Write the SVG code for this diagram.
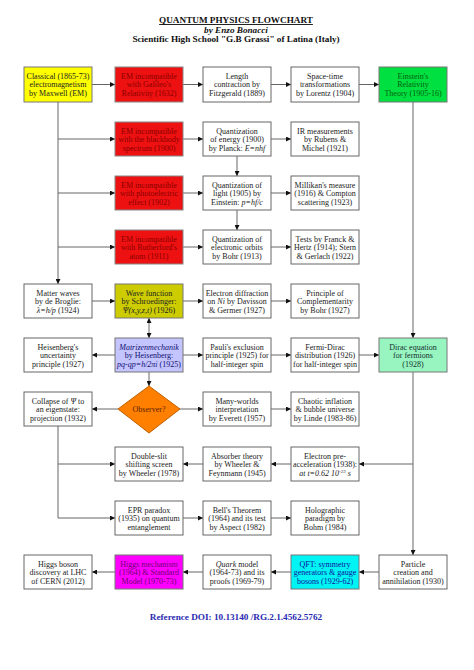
<svg xmlns="http://www.w3.org/2000/svg" width="474" height="670" viewBox="0 0 474 670">
<defs>
<marker id="ah" viewBox="0 0 6 6" refX="6" refY="3" markerWidth="5" markerHeight="5" markerUnits="userSpaceOnUse" orient="auto-start-reverse">
<path d="M0,0 L6,3 L0,6 Z" fill="#111"/>
</marker>
<style>
text{font-family:"Liberation Serif","Times New Roman",serif;font-size:8px;text-anchor:middle;fill:#222}
.b{fill:#fff;stroke:#666;stroke-width:1}
.red{fill:#ee1111;stroke:#888}
.rt{fill:#8a0000}
.c path{fill:none;stroke:#666;stroke-width:1}
.ttl{font-weight:bold;font-size:9.2px;fill:#111}
</style>
</defs>
<rect width="474" height="670" fill="#fff"/>
<g id="title">
<text class="ttl" x="236" y="23" text-decoration="underline">QUANTUM PHYSICS FLOWCHART</text>
<text class="ttl" x="236" y="32.5" font-style="italic">by Enzo Bonacci</text>
<text class="ttl" x="236" y="41.5">Scientific High School "G.B Grassi" of Latina (Italy)</text>
</g>
<g class="c" id="connectors">
<path d="M92,84.5H115" marker-end="url(#ah)"/>
<path d="M183,84.5H203" marker-end="url(#ah)"/>
<path d="M271,84.5H291" marker-end="url(#ah)"/>
<path d="M359,84.5H379" marker-end="url(#ah)"/>
<path d="M58,102V284" marker-end="url(#ah)"/>
<path d="M58,139H115" marker-end="url(#ah)"/>
<path d="M58,193H115" marker-end="url(#ah)"/>
<path d="M58,247H115" marker-end="url(#ah)"/>
<path d="M183,139H203" marker-end="url(#ah)"/>
<path d="M183,193H203" marker-end="url(#ah)"/>
<path d="M183,247H203" marker-end="url(#ah)"/>
<path d="M271,139H291" marker-end="url(#ah)"/>
<path d="M271,193H291" marker-end="url(#ah)"/>
<path d="M271,247H291" marker-end="url(#ah)"/>
<path d="M237,156V176" marker-end="url(#ah)"/>
<path d="M237,210V230" marker-end="url(#ah)"/>
<path d="M413,102V338" marker-end="url(#ah)"/>
<path d="M413,372V555" marker-end="url(#ah)"/>
<path d="M413,464H359" marker-end="url(#ah)"/>
<path d="M92,301H115" marker-end="url(#ah)"/>
<path d="M183,301H203" marker-end="url(#ah)"/>
<path d="M271,301H291" marker-end="url(#ah)"/>
<path d="M149,318V338" marker-start="url(#ah)" marker-end="url(#ah)"/>
<path d="M115,355H92" marker-end="url(#ah)"/>
<path d="M183,355H203" marker-end="url(#ah)"/>
<path d="M271,355H291" marker-end="url(#ah)"/>
<path d="M359,355H379" marker-end="url(#ah)"/>
<path d="M149,372V386" marker-end="url(#ah)"/>
<path d="M118,409H92" marker-end="url(#ah)"/>
<path d="M180,409H203" marker-end="url(#ah)"/>
<path d="M271,409H291" marker-end="url(#ah)"/>
<path d="M58,426V518H115" marker-end="url(#ah)"/>
<path d="M58,464H115" marker-end="url(#ah)"/>
<path d="M291,464H271" marker-end="url(#ah)"/>
<path d="M203,464H183" marker-end="url(#ah)"/>
<path d="M183,518H203" marker-end="url(#ah)"/>
<path d="M271,518H291" marker-end="url(#ah)"/>
<path d="M379,572H359" marker-end="url(#ah)"/>
<path d="M291,572H271" marker-end="url(#ah)"/>
<path d="M203,572H183" marker-end="url(#ah)"/>
<path d="M115,572H92" marker-end="url(#ah)"/>
</g>

<g id="classical"><rect x="24" y="67" width="68" height="35" fill="#ffff00" stroke="#777"/><text x="58" y="78.7">Classical (1865-73)</text><text x="58" y="87.3">electromagnetism</text><text x="58" y="96">by Maxwell (EM)</text></g>
<g id="em-galileo"><rect x="115" y="67" width="68" height="35" class="red"/><text class="rt" x="149" y="78.7">EM incompatible</text><text class="rt" x="149" y="87.3">with Galileo's</text><text class="rt" x="149" y="96">Relativity (1632)</text></g>
<g id="length"><rect x="203" y="67" width="68" height="35" class="b"/><text x="237" y="78.7">Length</text><text x="237" y="87.3">contraction by</text><text x="237" y="96">Fitzgerald (1889)</text></g>
<g id="lorentz"><rect x="291" y="67" width="68" height="35" class="b"/><text x="325" y="78.7">Space-time</text><text x="325" y="87.3">transformations</text><text x="325" y="96">by Lorentz (1904)</text></g>
<g id="einstein"><rect x="379" y="67" width="68" height="35" fill="#00e040" stroke="#777"/><text x="413" y="78.7" style="fill:#006010">Einstein's</text><text x="413" y="87.3" style="fill:#006010">Relativity</text><text x="413" y="96" style="fill:#006010">Theory (1905-16)</text></g>

<g id="em-blackbody"><rect x="115" y="122" width="68" height="34" class="red"/><text class="rt" x="149" y="133.5">EM incompatible</text><text class="rt" x="149" y="142">with the blackbody</text><text class="rt" x="149" y="150.5">spectrum (1900)</text></g>
<g id="planck"><rect x="203" y="122" width="68" height="34" class="b"/><text x="237" y="133.5">Quantization</text><text x="237" y="142">of energy (1900)</text><text x="237" y="150.5">by Planck: <tspan font-style="italic">E=nhf</tspan></text></g>
<g id="rubens"><rect x="291" y="122" width="68" height="34" class="b"/><text x="325" y="133.5">IR measurements</text><text x="325" y="142">by Rubens &amp;</text><text x="325" y="150.5">Michel (1921)</text></g>

<g id="em-photo"><rect x="115" y="176" width="68" height="34" class="red"/><text class="rt" x="149" y="187.5">EM incompatible</text><text class="rt" x="149" y="196">with photoelectric</text><text class="rt" x="149" y="204.5">effect (1902)</text></g>
<g id="light"><rect x="203" y="176" width="68" height="34" class="b"/><text x="237" y="187.5">Quantization of</text><text x="237" y="196">light (1905) by</text><text x="237" y="204.5">Einstein: <tspan font-style="italic">p=hf/c</tspan></text></g>
<g id="millikan"><rect x="291" y="176" width="68" height="34" class="b"/><text x="325" y="187.5">Millikan's measure</text><text x="325" y="196">(1916) &amp; Compton</text><text x="325" y="204.5">scattering (1923)</text></g>

<g id="em-rutherford"><rect x="115" y="230" width="68" height="34" class="red"/><text class="rt" x="149" y="241.5">EM incompatible</text><text class="rt" x="149" y="250">with Rutherford's</text><text class="rt" x="149" y="258.5">atom (1911)</text></g>
<g id="bohr-orbits"><rect x="203" y="230" width="68" height="34" class="b"/><text x="237" y="241.5">Quantization of</text><text x="237" y="250">electronic orbits</text><text x="237" y="258.5">by Bohr (1913)</text></g>
<g id="franck"><rect x="291" y="230" width="68" height="34" class="b"/><text x="325" y="241.5">Tests by Franck &amp;</text><text x="325" y="250">Hertz (1914); Stern</text><text x="325" y="258.5">&amp; Gerlach (1922)</text></g>

<g id="debroglie"><rect x="24" y="284" width="68" height="34" class="b"/><text x="58" y="295.5">Matter waves</text><text x="58" y="304">by de Broglie:</text><text x="58" y="312.5"><tspan font-style="italic">λ=h/p</tspan> (1924)</text></g>
<g id="schroedinger"><rect x="115" y="284" width="68" height="34" fill="#cccc00" stroke="#777"/><text x="149" y="295.5">Wave function</text><text x="149" y="304">by Schroedinger:</text><text x="149" y="312.5"><tspan font-style="italic">Ψ(x,y,z,t)</tspan> (1926)</text></g>
<g id="davisson"><rect x="203" y="284" width="68" height="34" class="b"/><text x="237" y="295.5">Electron diffraction</text><text x="237" y="304">on <tspan font-style="italic">Ni</tspan> by Davisson</text><text x="237" y="312.5">&amp; Germer (1927)</text></g>
<g id="complementarity"><rect x="291" y="284" width="68" height="34" class="b"/><text x="325" y="295.5">Principle of</text><text x="325" y="304">Complementarity</text><text x="325" y="312.5">by Bohr (1927)</text></g>

<g id="uncertainty"><rect x="24" y="338" width="68" height="34" class="b"/><text x="58" y="349.5">Heisenberg's</text><text x="58" y="358">uncertainty</text><text x="58" y="366.5">principle (1927)</text></g>
<g id="matrizen"><rect x="115" y="338" width="68" height="34" fill="#c4c4ff" stroke="#777"/><text x="149" y="349.5" font-style="italic" style="fill:#101070">Matrizenmechanik</text><text x="149" y="358" style="fill:#101070">by Heisenberg:</text><text x="149" y="366.5" style="fill:#101070"><tspan font-style="italic">pq-qp=h/2πi</tspan> (1925)</text></g>
<g id="pauli"><rect x="203" y="338" width="68" height="34" class="b"/><text x="237" y="349.5">Pauli's exclusion</text><text x="237" y="358">principle (1925) for</text><text x="237" y="366.5">half-integer spin</text></g>
<g id="fermi"><rect x="291" y="338" width="68" height="34" class="b"/><text x="325" y="349.5">Fermi-Dirac</text><text x="325" y="358">distribution (1926)</text><text x="325" y="366.5">for half-integer spin</text></g>
<g id="dirac"><rect x="379" y="338" width="68" height="34" fill="#99f5c0" stroke="#777"/><text x="413" y="349.5" style="fill:#103030">Dirac equation</text><text x="413" y="358" style="fill:#103030">for fermions</text><text x="413" y="366.5" style="fill:#103030">(1928)</text></g>

<g id="collapse"><rect x="24" y="392" width="68" height="34" class="b"/><text x="58" y="403.5">Collapse of <tspan font-style="italic">Ψ</tspan> to</text><text x="58" y="412">an eigenstate:</text><text x="58" y="420.5">projection (1932)</text></g>
<g id="observer"><polygon points="149,386 180,409 149,433 118,409" fill="#ff8000" stroke="#c06000"/><text x="149" y="412" style="fill:#5a2000">Observer?</text></g>
<g id="everett"><rect x="203" y="392" width="68" height="34" class="b"/><text x="237" y="403.5">Many-worlds</text><text x="237" y="412">interpretation</text><text x="237" y="420.5">by Everett (1957)</text></g>
<g id="linde"><rect x="291" y="392" width="68" height="34" class="b"/><text x="325" y="403.5">Chaotic inflation</text><text x="325" y="412">&amp; bubble universe</text><text x="325" y="420.5">by Linde (1983-86)</text></g>

<g id="double-slit"><rect x="115" y="447" width="68" height="34" class="b"/><text x="149" y="458.5">Double-slit</text><text x="149" y="467">shifting screen</text><text x="149" y="475.5">by Wheeler (1978)</text></g>
<g id="absorber"><rect x="203" y="447" width="68" height="34" class="b"/><text x="237" y="458.5">Absorber theory</text><text x="237" y="467">by Wheeler &amp;</text><text x="237" y="475.5">Feynmann (1945)</text></g>
<g id="preacceleration"><rect x="291" y="447" width="68" height="34" class="b"/><text x="325" y="458.5">Electron pre-</text><text x="325" y="467">acceleration (1938):</text><text x="325" y="475.5" font-style="italic">at t=0.62 10<tspan dy="-3" font-size="5">-23</tspan><tspan dy="3"> s</tspan></text></g>

<g id="epr"><rect x="115" y="501" width="68" height="34" class="b"/><text x="149" y="512.5">EPR paradox</text><text x="149" y="521">(1935) on quantum</text><text x="149" y="529.5">entanglement</text></g>
<g id="bell"><rect x="203" y="501" width="68" height="34" class="b"/><text x="237" y="512.5">Bell's Theorem</text><text x="237" y="521">(1964) and its test</text><text x="237" y="529.5">by Aspect (1982)</text></g>
<g id="holographic"><rect x="291" y="501" width="68" height="34" class="b"/><text x="325" y="512.5">Holographic</text><text x="325" y="521">paradigm by</text><text x="325" y="529.5">Bohm (1984)</text></g>

<g id="higgs-boson"><rect x="24" y="555" width="68" height="34" class="b"/><text x="58" y="566.5">Higgs boson</text><text x="58" y="575">discovery at LHC</text><text x="58" y="583.5">of CERN (2012)</text></g>
<g id="higgs-mechanism"><rect x="115" y="555" width="68" height="34" fill="#ff00ff" stroke="#777"/><text x="149" y="566.5" style="fill:#700070">Higgs mechanism</text><text x="149" y="575" style="fill:#700070">(1964) &amp; Standard</text><text x="149" y="583.5" style="fill:#700070">Model (1970-73)</text></g>
<g id="quark"><rect x="203" y="555" width="68" height="34" class="b"/><text x="237" y="566.5"><tspan font-style="italic">Quark</tspan> model</text><text x="237" y="575">(1964-73) and its</text><text x="237" y="583.5">proofs (1969-79)</text></g>
<g id="qft"><rect x="291" y="555" width="68" height="34" fill="#00f4f4" stroke="#777"/><text x="325" y="566.5" style="fill:#1010a0">QFT: symmetry</text><text x="325" y="575" style="fill:#1010a0">generators &amp; gauge</text><text x="325" y="583.5" style="fill:#1010a0">bosons (1929-62)</text></g>
<g id="particle"><rect x="379" y="555" width="68" height="34" class="b"/><text x="413" y="566.5">Particle</text><text x="413" y="575">creation and</text><text x="413" y="583.5">annihilation (1930)</text></g>

<g id="doi"><text x="236" y="620" style="font-weight:bold;font-size:9.2px;fill:#2a2ab0">Reference DOI: 10.13140 /RG.2.1.4562.5762</text></g>
</svg>
